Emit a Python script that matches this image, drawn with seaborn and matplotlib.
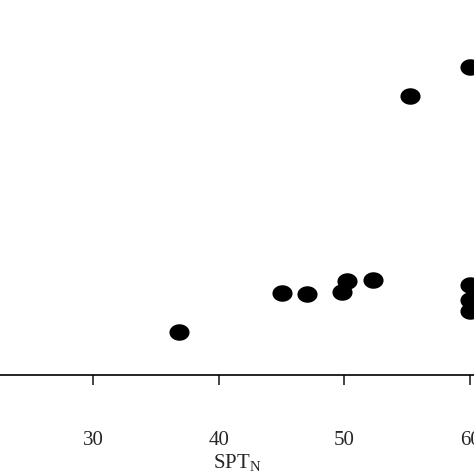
import matplotlib
matplotlib.use("Agg")
import matplotlib.pyplot as plt
from matplotlib.path import Path
import seaborn as sns
import pandas as pd
import numpy as np

spt_n = [36.8, 45.0, 47.0, 49.8, 50.2, 52.3, 55.2, 60.0, 60.0, 60.0, 60.0]
y_val = [43, 82, 81, 83, 94, 95, 279, 308, 90, 75, 64]
df = pd.DataFrame({"SPT_N": spt_n, "y": y_val})

t = np.linspace(0, 2 * np.pi, 60)
ellipse = Path(np.column_stack([np.cos(t), 0.82 * np.sin(t)]), closed=True)

sns.set_style("white")
plt.rcParams['font.family'] = ['Liberation Serif', 'DejaVu Serif']

fig = plt.figure(figsize=(4.74, 4.74), dpi=100)
ax = fig.add_axes([0, 99/474, 1, 375/474])
sns.scatterplot(data=df, x="SPT_N", y="y", ax=ax, color="black", s=210,
                marker=ellipse, edgecolor="black", linewidth=0, clip_on=False)
ax.set_xlim(22.6, 60.3)
ax.set_ylim(0, 375)
for s in ["top", "left", "right"]:
    ax.spines[s].set_visible(False)
ax.spines["bottom"].set_linewidth(1.2)
ax.spines["bottom"].set_color("black")
ax.set_yticks([])
ax.set_xticks([30, 40, 50, 60])
ax.tick_params(axis="x", direction="out", length=7, width=1.2, pad=33,
               labelsize=15, bottom=True)
ax.set_ylabel("")
ax.set_xlabel(r"SPT$_\mathregular{N}$", fontsize=15, labelpad=2)
fig.savefig("out.png", dpi=100)
